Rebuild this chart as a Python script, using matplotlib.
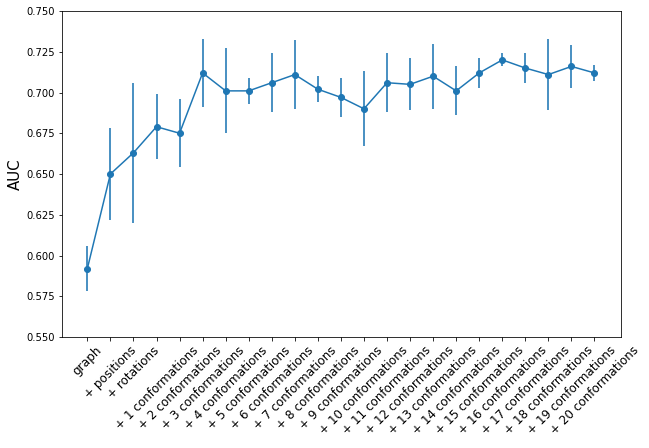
import matplotlib
matplotlib.use("Agg")
import matplotlib.pyplot as plt

labels = ["graph", "+ positions", "+ rotations"] + \
    ["+ {} conformations".format(i) for i in range(1, 21)]

auc_mean = [0.592, 0.650, 0.663, 0.679, 0.675, 0.712, 0.701, 0.701, 0.706, 0.711,
            0.702, 0.697, 0.690, 0.706, 0.705, 0.710, 0.701, 0.712, 0.720, 0.715,
            0.711, 0.716, 0.712]
auc_std = [0.014, 0.028, 0.043, 0.020, 0.021, 0.021, 0.026, 0.008, 0.018, 0.021,
           0.008, 0.012, 0.023, 0.018, 0.016, 0.020, 0.015, 0.009, 0.004, 0.009,
           0.022, 0.013, 0.005]

# picture was made at 72 dpi
fig = plt.figure(figsize=(649 / 72, 448 / 72), dpi=72)
ax = fig.add_axes([62 / 649, 1 - 337 / 448, 559 / 649, 326 / 448])
x = range(len(labels))
ax.errorbar(x, auc_mean, yerr=auc_std, fmt="none", ecolor="#1f77b4",
            elinewidth=2, alpha=0.8)
ax.plot(x, auc_mean, marker="o", color="#1f77b4")
ax.set_ylim(0.55, 0.75)
ax.set_xlim(-0.5 - 0.6, len(labels) - 1 + 1.15)
ax.set_xticks(list(x))
ax.set_xticklabels(labels, rotation=45, fontsize=12)
ax.set_ylabel("AUC", fontsize=15)
fig.savefig("out.png", dpi=72)
